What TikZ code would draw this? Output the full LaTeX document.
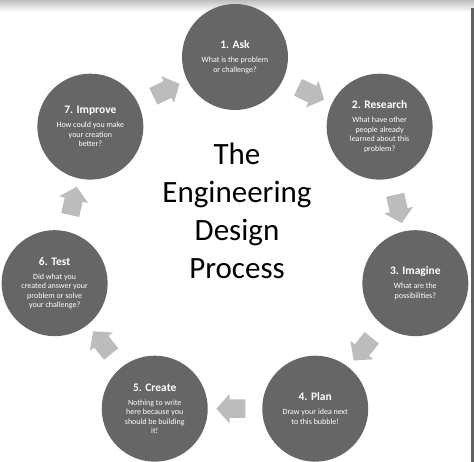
\documentclass[tikz,border=0pt]{standalone}
\usepackage{fontspec}
\setmainfont{Carlito}
\usetikzlibrary{shapes.arrows}
\definecolor{bubble}{HTML}{666666}
\definecolor{flowgray}{HTML}{BCBCBC}
\newcommand{\stagetitle}[1]{{\fontsize{11.5}{13}\selectfont\bfseries #1}\\[4.5pt]}
\begin{document}
\begin{tikzpicture}[x=1pt,y=1pt,
		stage/.style={circle,fill=bubble,minimum size=106pt,inner sep=0pt,align=center,text=white,font=\fontsize{8}{9.5}\selectfont},
		flow/.style={single arrow,fill=flowgray,minimum height=29pt,inner xsep=0pt,inner ysep=9pt,single arrow head extend=5.5pt,single arrow tip angle=96,sloped,allow upside down}]
	\def\R{185}
	\useasboundingbox (-235,-220) rectangle (239,242);
	% screenshot edges
	\shade[top color=black!25,bottom color=white] (-235,230) rectangle (239,242);
	\fill[black!62] (236,-220) rectangle (239,234);
	% the seven steps
	\node[stage] (s1) at (90:\R) {\stagetitle{1. Ask}What is the problem\\or challenge?};
	\node[stage] (s2) at (38.57:\R) {\stagetitle{2. Research}What have other\\people already\\learned about this\\problem?};
	\node[stage] (s3) at (-12.86:\R) {\stagetitle{3. Imagine}What are the\\possibilities?};
	\node[stage] (s4) at (-64.29:\R) {\stagetitle{4. Plan}Draw your idea next\\to this bubble!};
	\node[stage] (s5) at (-115.71:\R) {\stagetitle{5. Create}Nothing to write\\here because you\\should be building\\it!};
	\node[stage] (s6) at (-167.14:\R) {\stagetitle{6. Test}Did what you\\created answer your\\problem or solve\\your challenge?};
	\node[stage] (s7) at (141.43:\R) {\stagetitle{7. Improve}How could you make\\your creation\\better?};
	\foreach \i/\j in {1/2,2/3,3/4,4/5,5/6,6/7,7/1}
		\path (s\i) -- (s\j) node[flow,midway] (a\i) {};
	\node[font=\fontsize{31}{38}\selectfont,align=center] (title) at (2,31) {The\\Engineering\\Design\\Process};
\end{tikzpicture}
\end{document}
